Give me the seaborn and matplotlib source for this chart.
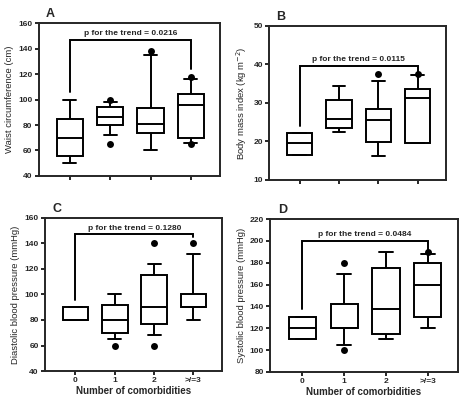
import numpy as np
import pandas as pd
import matplotlib
matplotlib.use("Agg")
import matplotlib.pyplot as plt
import seaborn as sns

sns.set_style("ticks")
plt.rcParams['font.family'] = ['Liberation Sans', 'DejaVu Sans']

categories = ["0", "1", "2", ">/=3"]

# five-number summaries per group: [min, q1, median, q3, max]
waist_box = [[50, 56, 70, 85, 100], [72, 80, 86, 94, 98], [60, 74, 81, 93, 135], [66, 70, 96, 104, 116]]
waist_out_x = ["1", "1", "2", ">/=3", ">/=3"]
waist_out_y = [65, 100, 138, 65, 118]

bmi_box = [[16.5, 16.5, 19.5, 22.2, 22.2], [22.5, 23.6, 25.8, 30.8, 34.5], [16.3, 19.9, 25.5, 28.3, 35.6], [19.5, 19.5, 31.3, 33.7, 37.2]]
bmi_out_x = ["2", ">/=3"]
bmi_out_y = [37.5, 37.5]

dbp_box = [[80, 80, 80, 90, 90], [65, 70, 80, 92, 100], [68, 77, 90, 115, 124], [80, 90, 90, 100, 132]]
dbp_out_x = ["1", "2", "2", ">/=3"]
dbp_out_y = [60, 60, 140, 140]

sbp_box = [[110, 110, 120, 130, 130], [105, 120, 120, 142, 170], [110, 115, 138, 175, 190], [120, 130, 160, 180, 188]]
sbp_out_x = ["1", "1", ">/=3"]
sbp_out_y = [100, 180, 190]

p_texts = ["p for the trend = 0.0216", "p for the trend = 0.0115", "p for the trend = 0.1280", "p for the trend = 0.0484"]
letters = ["A", "B", "C", "D"]
ylabels = ["Waist circumference (cm)", "Body mass index (kg m$^{-2}$)",
           "Diastolic blood pressure (mmHg)", "Systolic blood pressure (mmHg)"]
xlabel = "Number of comorbidities"

panels = [
    dict(box=waist_box, ox=waist_out_x, oy=waist_out_y, ylim=(40, 160), yticks=np.arange(40, 161, 20),
         bracket=(106, 147, 124), rect=[0.082, 0.559, 0.382, 0.383], show_x=False),
    dict(box=bmi_box, ox=bmi_out_x, oy=bmi_out_y, ylim=(10, 50), yticks=np.arange(10, 51, 10),
         bracket=(24, 39.6, 38), rect=[0.568, 0.549, 0.373, 0.386], show_x=False),
    dict(box=dbp_box, ox=dbp_out_x, oy=dbp_out_y, ylim=(40, 160), yticks=np.arange(40, 161, 20),
         bracket=(96, 147, 145), rect=[0.095, 0.070, 0.373, 0.384], show_x=True),
    dict(box=sbp_box, ox=sbp_out_x, oy=sbp_out_y, ylim=(80, 220), yticks=np.arange(80, 221, 20),
         bracket=(138, 200, 192), rect=[0.570, 0.068, 0.396, 0.383], show_x=True),
]

fig = plt.figure(figsize=(4.74, 3.99), dpi=100)
lw = 1.4
for i, p in enumerate(panels):
    ax = fig.add_axes(p["rect"])
    rows = []
    for cat, vals in zip(categories, p["box"]):
        for v in vals:
            rows.append((cat, v))
    df = pd.DataFrame(rows, columns=["group", "value"])
    sns.boxplot(data=df, x="group", y="value", order=categories, whis=(0, 100),
                width=0.65, color="white", linecolor="black", linewidth=lw,
                showfliers=False, ax=ax)
    odf = pd.DataFrame({"group": p["ox"], "value": p["oy"]})
    sns.stripplot(data=odf, x="group", y="value", order=categories, jitter=False,
                  color="black", size=5, ax=ax, zorder=5)
    b0, btop, b3 = p["bracket"]
    ax.plot([0, 0, 3, 3], [b0, btop, btop, b3], color="black", lw=lw, solid_joinstyle="miter")
    ax.text(1.5, btop + (p["ylim"][1] - p["ylim"][0]) * 0.018, p_texts[i], ha="center", va="bottom",
            fontsize=6, fontweight="bold")
    ax.set_xlim(-0.77, 3.72)
    ax.set_ylim(*p["ylim"])
    ax.set_yticks(p["yticks"])
    ax.set_yticklabels([str(int(t)) for t in p["yticks"]], fontsize=6, fontweight="bold")
    ax.set_ylabel(ylabels[i], fontsize=6.8, labelpad=3)
    ax.set_xticks(range(4))
    if p["show_x"]:
        ax.set_xticklabels(categories, fontsize=6, fontweight="bold")
        ax.set_xlabel(xlabel, fontsize=7, fontweight="bold", labelpad=1)
    else:
        ax.set_xticklabels([])
        ax.set_xlabel("")
    for s in ax.spines.values():
        s.set_linewidth(lw)
        s.set_visible(True)
    ax.tick_params(width=lw, length=3, direction="out", pad=1.5)
    ax.text(0.04, 1.02, letters[i], transform=ax.transAxes, fontsize=9, fontweight="bold",
            ha="left", va="bottom")

fig.savefig("out.png", dpi=100)
